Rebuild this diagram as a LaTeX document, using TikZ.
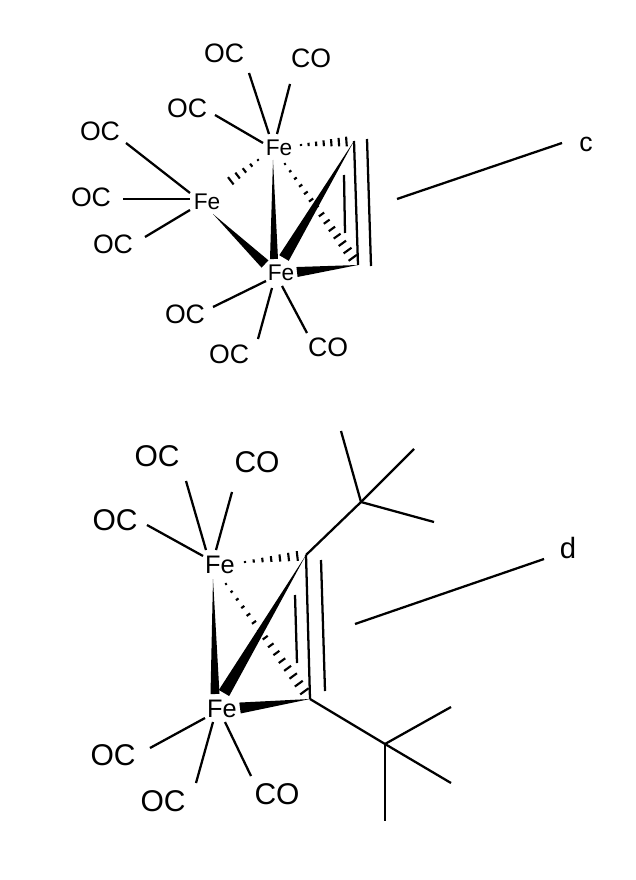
\documentclass[tikz,border=0pt]{standalone}
\usepackage{fontspec}
\setmainfont{Liberation Sans}
\usetikzlibrary{calc}
\newcommand{\wedgebond}[3]{\fill[black] (#1) -- ($(#2)!#3*0.375pt!90:(#1)$) -- ($(#2)!#3*0.375pt!-90:(#1)$) -- cycle;}
\newcommand{\hashbond}[4]{%
  \foreach \hi in {0,...,#4}{%
    \pgfmathsetmacro{\hfrac}{\hi/#4}%
    \pgfmathsetmacro{\hwid}{(2+(#3-2)*\hfrac)*0.375}%
    \draw[hashtick] ($($(#1)!\hfrac!(#2)$)!\hwid pt!90:(#2)$) -- ($($(#1)!\hfrac!(#2)$)!\hwid pt!-90:(#2)$);
  }}
\tikzset{
  bond/.style={line width=1.7pt,line cap=butt,black},
  hashtick/.style={line width=1.6pt,black},
  bigtext/.style={font=\fontsize{20}{24}\selectfont,inner sep=0pt,text=black},
  hugetext/.style={font=\fontsize{22.5}{27}\selectfont,inner sep=0pt,text=black},
  fetop/.style={font=\fontsize{17}{20}\selectfont,inner sep=0pt,text=black},
  febot/.style={font=\fontsize{19}{22}\selectfont,inner sep=0pt,text=black},
  lettertext/.style={font=\fontsize{20}{24}\selectfont,inner sep=0pt,text=black},
}
\begin{document}
\begin{tikzpicture}[x=0.75pt,y=-0.75pt]
\fill[white] (0,0) rectangle (635,880);
\useasboundingbox (0,0) rectangle (635,880);
% upper molecule
\node[fetop] (f1) at (279,148) {Fe};
\node[fetop] (f2) at (207,202) {Fe};
\node[fetop] (f3) at (281,273) {Fe};
\coordinate (c1) at (354,141);
\coordinate (c2) at (358,265);
\node[bigtext] (a1) at (224,53) {OC};
\node[bigtext] (a2) at (311,58) {CO};
\node[bigtext] (a3) at (187,108) {OC};
\node[bigtext] (a4) at (100,131) {OC};
\node[bigtext] (a5) at (91,197) {OC};
\node[bigtext] (a6) at (113,244) {OC};
\node[bigtext] (a7) at (185,314) {OC};
\node[bigtext] (a8) at (229,354) {OC};
\node[bigtext] (a9) at (328,347) {CO};
\node[lettertext] (lc) at (586,144) {c};
\draw[bond] ([shift={(25,20)}]a1.center) -- ([shift={(-10,-14)}]f1.center);
\draw[bond] ([shift={(-21,26)}]a2.center) -- ([shift={(-2,-14)}]f1.center);
\draw[bond] ([shift={(28,7)}]a3.center) -- ([shift={(-16,-5)}]f1.center);
\draw[bond] ([shift={(26,12)}]a4.center) -- ([shift={(-17,-9)}]f2.center);
\draw[bond] ([shift={(32,2)}]a5.center) -- ([shift={(-17,-3)}]f2.center);
\draw[bond] ([shift={(32,-7)}]a6.center) -- ([shift={(-17,8)}]f2.center);
\draw[bond] ([shift={(28,-7)}]a7.center) -- ([shift={(-15,8)}]f3.center);
\draw[bond] ([shift={(29,-15)}]a8.center) -- ([shift={(-9,15)}]f3.center);
\draw[bond] ([shift={(-21,-14)}]a9.center) -- ([shift={(1,13)}]f3.center);
\wedgebond{$(f2)+(6,12)$}{$(f3)+(-16,-9)$}{10}
\wedgebond{$(f1)+(-6,12)$}{$(f3)+(-7,-14)$}{8}
\wedgebond{c1}{$(f3)+(3,-15)$}{11}
\wedgebond{c2}{$(f3)+(16,-1)$}{10}
\hashbond{$(f1)+(22,-3)$}{c1}{11}{7}
\hashbond{$(f1)+(-21,12)$}{$(f2)+(17,-16)$}{11}{5}
\hashbond{$(f1)+(6,16)$}{c2}{11}{14}
\draw[bond] (c1) -- (c2);
\coordinate (d1a) at (367,139); \coordinate (d1b) at (371,266);
\coordinate (d2a) at (344,175); \coordinate (d2b) at (345,233);
\draw[bond] (d1a) -- (d1b);
\draw[bond] (d2a) -- (d2b);
\coordinate (lea) at (397,199);
\draw[bond] (lea) -- ([shift={(-24,-1)}]lc.center);
% lower molecule
\node[febot] (g1) at (220,565) {Fe};
\node[febot] (g2) at (222,709) {Fe};
\coordinate (e1) at (306,555);
\coordinate (e2) at (310,699);
\node[hugetext] (b1) at (157,456) {OC};
\node[hugetext] (b2) at (257,462) {CO};
\node[hugetext] (b3) at (115,520) {OC};
\node[hugetext] (b4) at (113,755) {OC};
\node[hugetext] (b5) at (163,801) {OC};
\node[hugetext] (b6) at (277,794) {CO};
\node[font=\fontsize{22}{26}\selectfont,inner sep=0pt] (ld) at (568,548) {d};
\draw[bond] ([shift={(29,25)}]b1.center) -- ([shift={(-14,-15)}]g1.center);
\draw[bond] ([shift={(-25,30)}]b2.center) -- ([shift={(-4,-15)}]g1.center);
\draw[bond] ([shift={(32,5)}]b3.center) -- ([shift={(-17,-9)}]g1.center);
\draw[bond] ([shift={(37,-7)}]b4.center) -- ([shift={(-17,9)}]g2.center);
\draw[bond] ([shift={(33,-18)}]b5.center) -- ([shift={(-9,13)}]g2.center);
\draw[bond] ([shift={(-26,-18)}]b6.center) -- ([shift={(3,13)}]g2.center);
\wedgebond{$(g1)+(-7,14)$}{$(g2)+(-7,-15)$}{9}
\wedgebond{e1}{$(g2)+(2,-16)$}{12}
\wedgebond{e2}{$(g2)+(18,-1)$}{11}
\hashbond{$(g1)+(25,-3)$}{e1}{11}{7}
\hashbond{$(g1)+(6,19)$}{e2}{11}{15}
\draw[bond] (e1) -- (e2);
\coordinate (h1a) at (321,560); \coordinate (h1b) at (325,691);
\coordinate (h2a) at (295,595); \coordinate (h2b) at (297,663);
\draw[bond] (h1a) -- (h1b);
\draw[bond] (h2a) -- (h2b);
\coordinate (t1) at (361,502);
\coordinate (t1a) at (341,431); \coordinate (t1b) at (414,449); \coordinate (t1c) at (434,522);
\draw[bond] (e1) -- (t1);
\draw[bond] (t1) -- (t1a);
\draw[bond] (t1) -- (t1b);
\draw[bond] (t1) -- (t1c);
\coordinate (t2) at (385,744);
\coordinate (t2a) at (451,707); \coordinate (t2b) at (451,783); \coordinate (t2c) at (385,821);
\draw[bond] (e2) -- (t2);
\draw[bond] (t2) -- (t2a);
\draw[bond] (t2) -- (t2b);
\draw[bond] (t2) -- (t2c);
\coordinate (lfa) at (355,624);
\draw[bond] (lfa) -- ([shift={(-24,11)}]ld.center);
\end{tikzpicture}
\end{document}
